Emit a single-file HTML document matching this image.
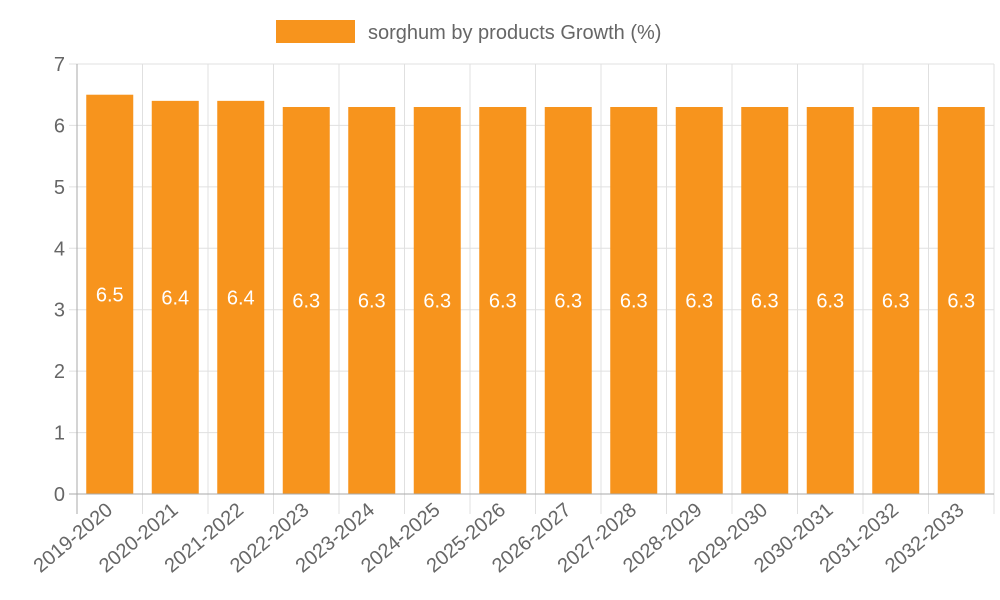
<!DOCTYPE html>
<html><head><meta charset="utf-8"><style>
html,body{margin:0;padding:0;background:#fff;}
svg{display:block;font-family:"Liberation Sans",sans-serif;}
</style></head><body>
<svg id="chart" width="1000" height="600" viewBox="0 0 1000 600">
  <g id="grid"></g>
  <g id="bars"></g>
  <g id="axes"></g>
  <g>
    <rect x="276" y="20" width="79" height="23" fill="#f7941d"/>
    <text x="368" y="39" font-size="20" fill="#666">sorghum by products Growth (%)</text>
  </g>
</svg>
<script>
const categories = ["2019-2020","2020-2021","2021-2022","2022-2023","2023-2024","2024-2025","2025-2026","2026-2027","2027-2028","2028-2029","2029-2030","2030-2031","2031-2032","2032-2033"];
const growthValues = [6.5,6.4,6.4,6.3,6.3,6.3,6.3,6.3,6.3,6.3,6.3,6.3,6.3,6.3];
const yTicks = [0,1,2,3,4,5,6,7];

const NS = "http://www.w3.org/2000/svg";
const X0 = 77, X1 = 994, Y0 = 494, Y1 = 64, YMAX = 7;
const band = (X1 - X0) / categories.length;
const xPos = i => X0 + band * i;
const yPos = v => Y0 - (v / YMAX) * (Y0 - Y1);
function mk(tag, attrs, parent) {
  const e = document.createElementNS(NS, tag);
  for (const k in attrs) e.setAttribute(k, attrs[k]);
  parent.appendChild(e);
  return e;
}
const grid = document.getElementById('grid');
const bars = document.getElementById('bars');
const axes = document.getElementById('axes');

yTicks.forEach(t => {
  const y = yPos(t);
  const l = mk('line', {x1: X0 - 8, x2: X1, y1: y, y2: y, stroke: t === 0 ? '#aaa' : '#e0e0e0', 'stroke-width': 1}, t === 0 ? axes : grid);
  
  
  const tx = mk('text', {x: X0 - 12, y: y + 7, 'text-anchor': 'end', 'font-size': 20, fill: '#666'}, axes);
  tx.textContent = t;
  
  
});
for (let i = 0; i <= categories.length; i++) {
  const x = xPos(i);
  const l = mk('line', {x1: x, x2: x, y1: Y1, y2: Y0 + 20, stroke: i === 0 ? '#aaa' : '#e0e0e0', 'stroke-width': 1}, i === 0 ? axes : grid);
  
  
}
categories.forEach((c, i) => {
  const cx = xPos(i) + band / 2;
  const bw = 47;
  const r = mk('rect', {x: cx - bw / 2, y: yPos(growthValues[i]), width: bw, height: Y0 - yPos(growthValues[i]), fill: '#f7941d'}, bars);
  
  
  const v = mk('text', {x: cx, y: (yPos(growthValues[i]) + Y0) / 2 + 7, 'text-anchor': 'middle', 'font-size': 20, fill: '#fff'}, bars);
  v.textContent = growthValues[i];
  
  
  const lx = cx + 4, ly = 512;
  const t = mk('text', {x: lx, y: ly, 'text-anchor': 'end', 'font-size': 20, fill: '#666', transform: `rotate(-40 ${lx} ${ly})`}, axes);
  t.textContent = c;
  
  
});
</script>
</body></html>
